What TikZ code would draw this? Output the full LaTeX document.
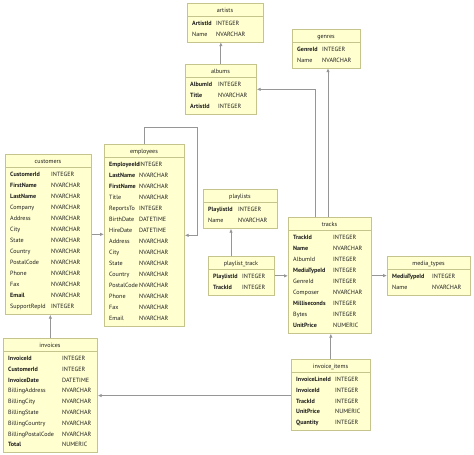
\documentclass[tikz,border=0pt]{standalone}
\usepackage{fontspec}
\setmainfont{PT Sans}
\usetikzlibrary{calc,arrows.meta}
\definecolor{boxfill}{RGB}{255,255,208}
\definecolor{boxline}{RGB}{196,196,140}
\definecolor{conncol}{RGB}{150,150,150}
\definecolor{txt}{RGB}{30,30,30}
\newcommand\tfont{\fontsize{6.1}{7}\selectfont}
\tikzset{
 tblbox/.style={draw=boxline, fill=boxfill, line width=0.7pt, inner sep=0pt, rectangle},
 tbltitle/.style={font=\tfont, text=txt, inner sep=0pt, text height=4.4pt, text depth=1.3pt},
 fb/.style={font=\tfont\bfseries, text=txt, inner sep=0pt, anchor=west, text height=4.4pt, text depth=1.3pt},
 fn/.style={font=\tfont, text=txt, inner sep=0pt, anchor=west, text height=4.4pt, text depth=1.3pt},
 ftype/.style={font=\tfont, text=txt, inner sep=0pt, anchor=west, text height=4.4pt, text depth=1.3pt},
 sepline/.style={draw=boxline, line width=0.7pt},
 conn/.style={draw=conncol, line width=0.8pt, -{Latex[length=4pt,width=3.5pt]}},
}
% #1 name, #2 title, #3 x, #4 y, #5 width, #6 type offset, #7 pitch, #8 rows count, #9 rows
\newcommand\erTable[9]{%
 \pgfmathsetmacro\tblh{21+(#8-1)*#7+7}%
 \node[tblbox, minimum width=#5pt, minimum height=\tblh pt, anchor=north west] (#1) at (#3,#4) {};
 \node[tbltitle] (#1-title) at ($(#1.north west)+(#5/2,7.5)$) {#2};
 \draw[sepline] ($(#1.north west)+(0,13.5)$) -- ($(#1.north east)+(0,13.5)$);
 \foreach \s/\f/\t [count=\i from 0] in {#9} {
   \node[\s] (#1-f\i) at ($(#1.north west)+(5,21+\i*#7)$) {\f};
   \node[ftype] (#1-t\i) at ($(#1.north west)+(#6,21+\i*#7)$) {\t};
 }
}
\begin{document}
\begin{tikzpicture}[x=1pt,y=-1pt]
\useasboundingbox (0,0) rectangle (474,455);
\erTable{artists}{artists}{187}{3}{76}{29}{10.5}{2}{fb/ArtistId/INTEGER, fn/Name/NVARCHAR}
\erTable{albums}{albums}{185}{64}{71}{33}{11}{3}{fb/AlbumId/INTEGER, fb/Title/NVARCHAR, fb/ArtistId/INTEGER}
\erTable{genres}{genres}{292}{29}{68}{30}{10.5}{2}{fb/GenreId/INTEGER, fn/Name/NVARCHAR}
\erTable{customers}{customers}{5}{154}{86}{46}{11}{13}{fb/CustomerId/INTEGER, fb/FirstName/NVARCHAR, fb/LastName/NVARCHAR, fn/Company/NVARCHAR, fn/Address/NVARCHAR, fn/City/NVARCHAR, fn/State/NVARCHAR, fn/Country/NVARCHAR, fn/PostalCode/NVARCHAR, fn/Phone/NVARCHAR, fn/Fax/NVARCHAR, fb/Email/NVARCHAR, fn/SupportRepId/INTEGER}
\erTable{employees}{employees}{104}{144}{80}{35}{11}{15}{fb/EmployeeId/INTEGER, fb/LastName/NVARCHAR, fb/FirstName/NVARCHAR, fn/Title/NVARCHAR, fn/ReportsTo/INTEGER, fn/BirthDate/DATETIME, fn/HireDate/DATETIME, fn/Address/NVARCHAR, fn/City/NVARCHAR, fn/State/NVARCHAR, fn/Country/NVARCHAR, fn/PostalCode/NVARCHAR, fn/Phone/NVARCHAR, fn/Fax/NVARCHAR, fn/Email/NVARCHAR}
\erTable{playlists}{playlists}{203}{189}{74}{35}{11}{2}{fb/PlaylistId/INTEGER, fn/Name/NVARCHAR}
\erTable{playlist_track}{playlist\_track}{208}{256}{66}{34}{11}{2}{fb/PlaylistId/INTEGER, fb/TrackId/INTEGER}
\erTable{tracks}{tracks}{288}{217}{83}{45}{11}{9}{fb/TrackId/INTEGER, fb/Name/NVARCHAR, fn/AlbumId/INTEGER, fb/MediaTypeId/INTEGER, fn/GenreId/INTEGER, fn/Composer/NVARCHAR, fb/Milliseconds/INTEGER, fn/Bytes/INTEGER, fb/UnitPrice/NUMERIC}
\erTable{media_types}{media\_types}{387}{256}{83}{45}{10.5}{2}{fb/MediaTypeId/INTEGER, fn/Name/NVARCHAR}
\erTable{invoices}{invoices}{3}{338}{94}{59}{10.8}{9}{fb/InvoiceId/INTEGER, fb/CustomerId/INTEGER, fb/InvoiceDate/DATETIME, fn/BillingAddress/NVARCHAR, fn/BillingCity/NVARCHAR, fn/BillingState/NVARCHAR, fn/BillingCountry/NVARCHAR, fn/BillingPostalCode/NVARCHAR, fb/Total/NUMERIC}
\erTable{invoice_items}{invoice\_items}{291}{359}{79}{44}{10.8}{5}{fb/InvoiceLineId/INTEGER, fb/InvoiceId/INTEGER, fb/TrackId/INTEGER, fb/UnitPrice/NUMERIC, fb/Quantity/INTEGER}
% connectors
\draw[conn] (albums.north) -- (albums.north |- artists.south);
\coordinate (tA) at ($(tracks.north west)+(27,0)$);
\draw[conn] (tA) |- (albums.east);
\coordinate (tG) at ($(tracks.north west)+(40,0)$);
\draw[conn] (tG) -- (tG |- genres.south);
\coordinate (pP) at ($(playlist_track.north west)+(23,0)$);
\draw[conn] (pP) -- (pP |- playlists.south);
\draw[conn] (playlist_track.east) -- (playlist_track.east -| tracks.west);
\draw[conn] (tracks.east |- media_types.west) -- (media_types.west);
\draw[conn] (invoice_items.north) -- (invoice_items.north |- tracks.south);
\draw[conn] (invoice_items.west |- invoices.east) -- (invoices.east);
\draw[conn] (invoices.north) -- (invoices.north |- customers.south);
\draw[conn] (customers.east) -- (customers.east -| employees.west);
\coordinate (eT) at ($(employees.north)+(0,-17)$);
\coordinate (eR) at ($(employees.east)+(13,0)$);
\draw[conn] (employees.north) -- (eT) -| (eR) -- (employees.east);
\end{tikzpicture}
\end{document}
